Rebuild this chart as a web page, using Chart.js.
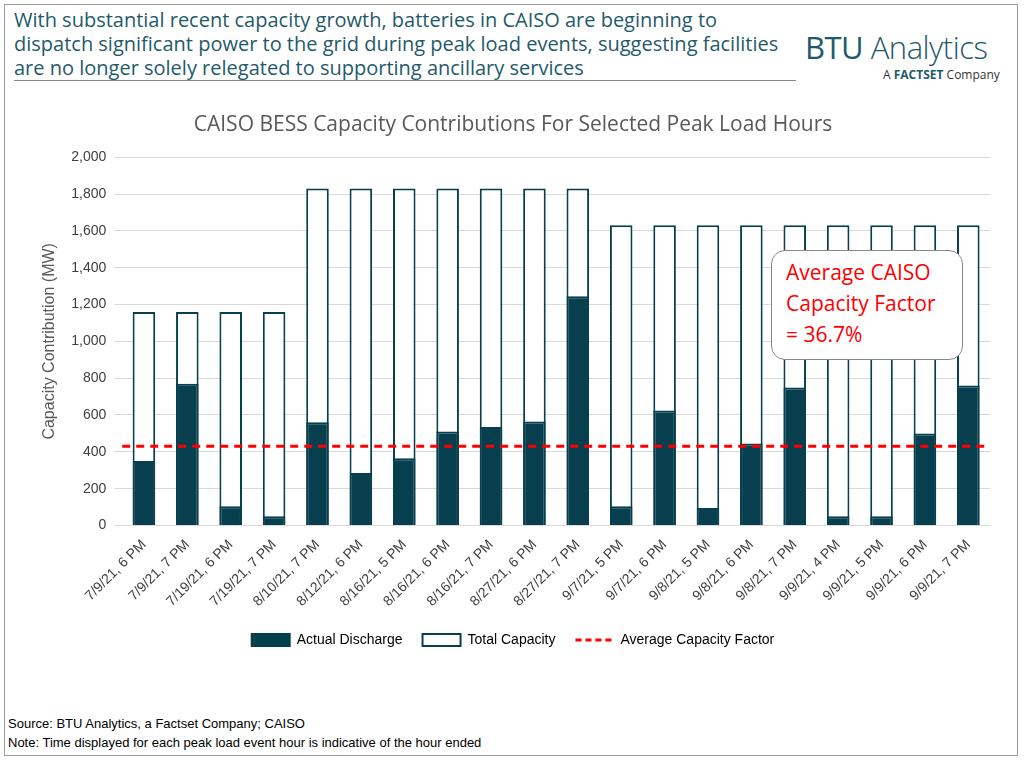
<!DOCTYPE html>
<html><head><meta charset="utf-8">
<script src="https://cdn.jsdelivr.net/npm/chart.js@4/dist/chart.umd.min.js"></script>
<style>
body{margin:0;background:#fff;font-family:Calibri,Carlito,"Liberation Sans",sans-serif;}
#frame{position:absolute;left:4px;top:4px;width:1012px;height:750px;border:1px solid #999;}
#hdr{position:absolute;left:14px;top:8px;width:765px;color:#1f5a6b;font-size:20px;line-height:24px;font-family:"Open Sans",sans-serif;}
#rule{position:absolute;left:14px;top:80px;width:782px;border-top:1px solid #888;}
#logo{position:absolute;left:805px;top:26px;color:#1f5a6b;font-family:"Open Sans",sans-serif;}
#note{position:absolute;left:8px;top:714px;font-size:13px;line-height:19px;color:#000;font-family:"Liberation Sans",sans-serif;}
#box{position:absolute;left:771px;top:250px;width:192px;height:110px;border:1px solid #888;border-radius:14px;background:#fff;color:#ff0000;font-size:21px;line-height:31px;padding:6px 0 0 14px;box-sizing:border-box;font-family:"Open Sans",sans-serif;}
#wrap{position:absolute;left:36px;top:104px;width:964px;height:553px;}
</style></head><body>
<div id="frame"></div>
<div id="hdr">With substantial recent capacity growth, batteries in CAISO are beginning to dispatch significant power to the grid during peak load events, suggesting facilities are no longer solely relegated to supporting ancillary services</div>
<div id="rule"></div>
<div id="logo"><div style="font-size:31px;letter-spacing:-0.5px">BTU<span style="font-weight:300"> Analytics</span></div><div style="font-size:12px;margin-left:78px;margin-top:-2px;color:#333">A <b style="color:#1f5a6b">FACTSET</b> Company</div></div>
<div id="wrap"><canvas id="c"></canvas></div>
<div id="box">Average CAISO<br>Capacity Factor<br>= 36.7%</div>
<div id="note">Source: BTU Analytics, a Factset Company; CAISO<br>Note: Time displayed for each peak load event hour is indicative of the hour ended</div>
<script>
const categories=["7/9/21, 6 PM","7/9/21, 7 PM","7/19/21, 6 PM","7/19/21, 7 PM","8/10/21, 7 PM","8/12/21, 6 PM","8/16/21, 5 PM","8/16/21, 6 PM","8/16/21, 7 PM","8/27/21, 6 PM","8/27/21, 7 PM","9/7/21, 5 PM","9/7/21, 6 PM","9/8/21, 5 PM","9/8/21, 6 PM","9/8/21, 7 PM","9/9/21, 4 PM","9/9/21, 5 PM","9/9/21, 6 PM","9/9/21, 7 PM"];
const actualDischarge=[350,770,105,50,560,285,365,510,535,565,1245,105,625,95,445,750,50,50,500,760];
const totalCapacity=[1160,1160,1160,1160,1830,1830,1830,1830,1830,1830,1830,1630,1630,1630,1630,1630,1630,1630,1630,1630];
const averageCapacity=430;
const yTicks=[0,200,400,600,800,1000,1200,1400,1600,1800,2000];
const dark="#073f4e";
const avgLine={id:"avg",afterDatasetsDraw(ch){const {ctx,chartArea:a,scales:{y}}=ch;const py=y.getPixelForValue(averageCapacity);ctx.save();ctx.strokeStyle="#ff0000";ctx.lineWidth=3;ctx.setLineDash([8,6]);ctx.beginPath();ctx.moveTo(a.left,py);ctx.lineTo(a.right,py);ctx.stroke();ctx.restore();}};
new Chart(document.getElementById("c"),{
 type:"bar",
 data:{labels:categories,datasets:[
  {label:"Actual Discharge",data:actualDischarge,backgroundColor:dark,borderColor:dark,borderWidth:2,order:1},
  {label:"Total Capacity",data:totalCapacity,backgroundColor:"#fff",borderColor:dark,borderWidth:2,order:2},
  {type:"line",label:"Average Capacity Factor",data:[],borderColor:"#ff0000",borderDash:[6,4],borderWidth:3,order:0}
 ]},
 options:{responsive:true,maintainAspectRatio:false,animation:false,
  layout:{padding:{right:10}},
  datasets:{bar:{barPercentage:0.52,categoryPercentage:1}},
  plugins:{
   title:{display:true,text:"CAISO BESS Capacity Contributions For Selected Peak Load Hours",color:"#595959",font:{size:21,weight:"normal",family:"'Open Sans',sans-serif"},padding:{top:8,bottom:20}},
   legend:{position:"bottom",labels:{color:"#404040",font:{size:14},usePointStyle:true,pointStyleWidth:38,boxHeight:12,padding:20,
     generateLabels(ch){return [
      {text:"Actual Discharge",fillStyle:dark,strokeStyle:dark,lineWidth:2,datasetIndex:0,pointStyle:"rect"},
      {text:"Total Capacity",fillStyle:"#fff",strokeStyle:dark,lineWidth:2,datasetIndex:1,pointStyle:"rect"},
      {text:"Average Capacity Factor",fillStyle:"#ff0000",strokeStyle:"#ff0000",lineWidth:3,lineDash:[6,4],datasetIndex:2,pointStyle:"line"}]}}},
   tooltip:{enabled:false}},
  scales:{
   x:{stacked:true,grid:{display:false},border:{color:"#d9d9d9"},ticks:{color:"#404040",font:{size:14},maxRotation:45,minRotation:45}},
   y:{stacked:false,min:0,max:2000,afterBuildTicks(s){s.ticks=yTicks.map(v=>({value:v}));},
    grid:{color:"#d9d9d9"},border:{display:false},
    ticks:{color:"#404040",font:{size:14},callback:v=>v.toLocaleString("en-US"),padding:8},
    title:{display:true,text:"Capacity Contribution (MW)",color:"#595959",font:{size:16}}}
  }},
 plugins:[avgLine]
});
</script></body></html>
